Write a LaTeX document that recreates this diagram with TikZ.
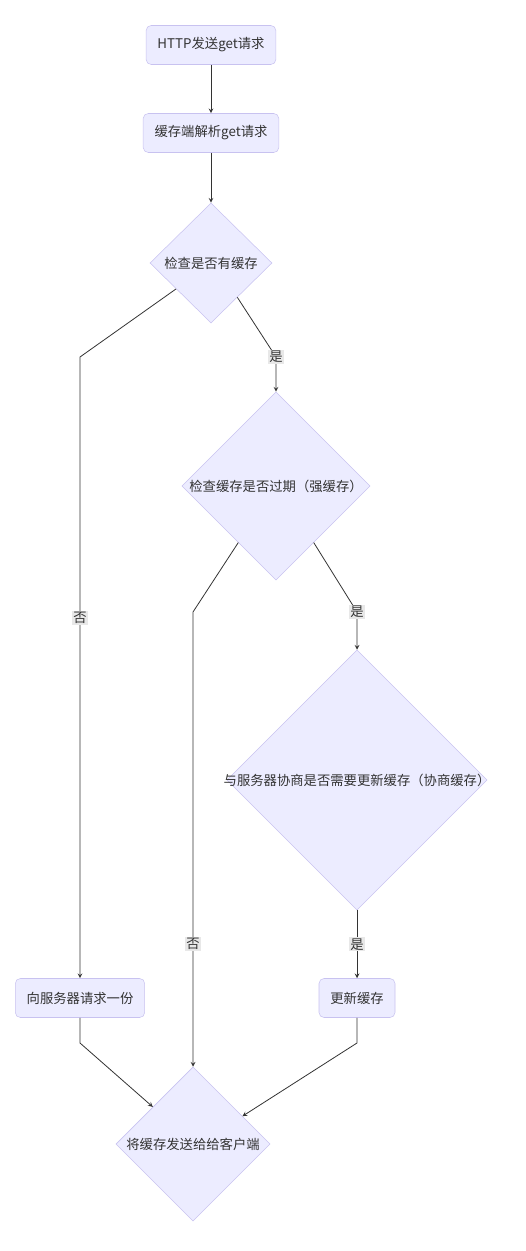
\documentclass[tikz,border=0pt]{standalone}
\usepackage{fontspec}
\setmainfont{Noto Sans CJK SC}
\usepackage{tikz}
\usetikzlibrary{arrows,shapes.geometric,calc}
\usetikzlibrary{positioning}
\definecolor{boxfill}{HTML}{ECECFF}
\definecolor{boxline}{HTML}{C8C2F0}
\definecolor{ink}{HTML}{333333}
\definecolor{lblfill}{HTML}{E8E8E8}
\tikzstyle{step box}=[rectangle,rounded corners=3.75pt,draw=boxline,fill=boxfill,
                text=ink,minimum height=29.25pt,inner xsep=8.5pt,
                font=\fontsize{10}{12}\selectfont]
\tikzstyle{test}=[diamond,draw=boxline,fill=boxfill,text=ink,inner sep=0pt,
                font=\fontsize{10}{12}\selectfont]
\tikzstyle{flow}=[->,>=stealth,draw=ink,line width=0.6pt]
\tikzstyle{yn}=[fill=lblfill,text=ink,inner sep=1pt,font=\fontsize{10}{12}\selectfont]

\begin{document}
\begin{tikzpicture}[x=0.75pt,y=-0.75pt]
\useasboundingbox (0,0) rectangle (525,1251);
\node[step box] (send) at (211,45) {HTTP发送get请求};
\node[step box] (parse) at (211,133) {缓存端解析get请求};
\node[test,minimum width=91.5pt,minimum height=90pt] (has) at (211,263)
  {\makebox[0pt]{检查是否有缓存}};
\node[test,minimum width=141pt,minimum height=141pt] (fresh) at (276,486)
  {\makebox[0pt]{检查缓存是否过期（强缓存）}};
\node[test,minimum width=195pt,minimum height=195pt] (nego) at (357,780)
  {\makebox[0pt]{与服务器协商是否需要更新缓存（协商缓存）}};
\node[step box] (fetch) at (80,998) {向服务器请求一份};
\node[step box] (update) at (357,998) {更新缓存};
\node[test,minimum width=115.5pt,minimum height=115.5pt] (reply) at (193,1144)
  {\makebox[0pt]{将缓存发送给给客户端}};
% straight part
\draw[flow] (send) -- (parse);
\draw[flow] (parse) -- (has);
% branches
\draw[flow] ($(has.west)!0.43!(has.south)$) -- (80,357)
  -- node[yn,pos=0.42]{否} (fetch.north);
\draw[flow] ($(has.east)!0.57!(has.south)$) -- (276,357) node[yn]{是} -- (fresh.north);
\draw[flow] ($(fresh.west)!0.6!(fresh.south)$) -- (193,612)
  -- node[yn,pos=0.73]{否} (reply.north);
\draw[flow] ($(fresh.east)!0.6!(fresh.south)$) -- (357,612) node[yn]{是} -- (nego.north);
\draw[flow] (nego.south) -- node[yn]{是} (update.north);
% back to client
\draw[flow] (fetch.south) -- (80,1043) -- ($(reply.north)!0.52!(reply.west)$);
\draw[flow] (update.south) -- (357,1043) -- ($(reply.north)!0.64!(reply.east)$);
\end{tikzpicture}
\end{document}
